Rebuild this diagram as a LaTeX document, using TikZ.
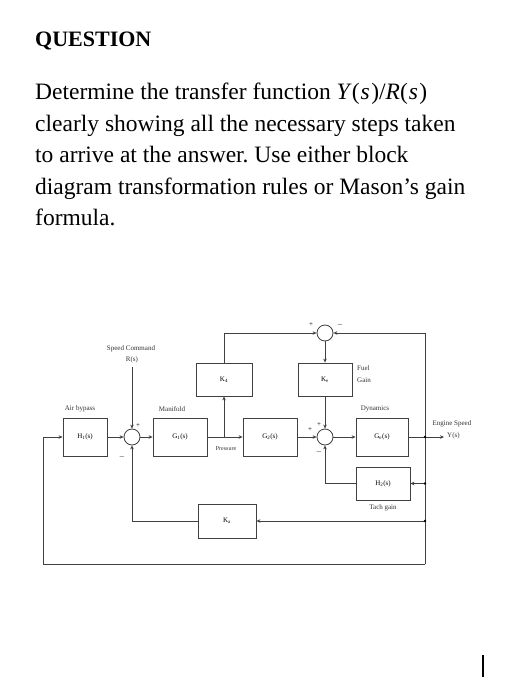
\documentclass[tikz,border=0pt]{standalone}
\usepackage{fontspec}
\setmainfont{Liberation Serif}
\usetikzlibrary{arrows.meta}
\frenchspacing
\newcommand{\mvar}[1]{\textit{#1}}
\begin{document}
\begin{tikzpicture}[x=1pt,y=-1pt,
  blk/.style={draw=black!75, line width=0.8pt, inner sep=0pt, minimum height=38pt, font=\fontsize{7}{8}\selectfont},
  sblk/.style={blk, minimum height=33pt},
  sumj/.style={draw=black!75, line width=0.8pt, circle, minimum size=16pt, inner sep=0pt},
  wire/.style={draw=black!75, line width=0.8pt},
  arr/.style={wire, -{Stealth[length=4pt,width=3.5pt]}},
  lbl/.style={font=\fontsize{7}{8}\selectfont, text=black!80, inner sep=0pt},
  sgn/.style={font=\fontsize{7}{7}\selectfont, inner sep=0pt},
  jdot/.style={circle, fill=black, minimum size=2.6pt, inner sep=0pt},
  body/.style={anchor=base west, font=\fontsize{23.5}{26}\selectfont, inner sep=0pt},
]
\useasboundingbox (0,0) rectangle (517,700);
\fill[white] (0,0) rectangle (517,700);

% text
\node[body, font=\fontsize{22}{26}\selectfont\bfseries] (q) at (35,47) {QUESTION};
\node[body] (l1) at (35,100) {Determine the transfer function \mvar{Y}(\kern1pt\mvar{s}\kern1.5pt)/\mvar{R}(\kern1pt\mvar{s}\kern1.5pt)};
\node[body] (l2) at (35,131.5) {clearly showing all the necessary steps taken};
\node[body] (l3) at (35,163) {to arrive at the answer. Use either block};
\node[body] (l4) at (35,194.5) {diagram transformation rules or Mason’s gain};
\node[body] (l5) at (35,226) {formula.};

% blocks
\node[blk, minimum width=44pt] (H1) at (85,437) {H\textsubscript{1}(s)};
\node[blk, minimum width=54pt] (G1) at (180,437) {G\textsubscript{1}(s)};
\node[blk, minimum width=54pt] (G2) at (270,437) {G\textsubscript{2}(s)};
\node[blk, minimum width=52pt] (Ge) at (382,437) {G\textsubscript{e}(s)};
\node[sblk, minimum width=56pt] (K4) at (224,379.5) {K\textsubscript{4}};
\node[sblk, minimum width=54pt] (Ke) at (325,379.5) {K\textsubscript{e}};
\node[sblk, minimum width=54pt] (H2) at (383,483.5) {H\textsubscript{2}(s)};
\node[sblk, minimum width=58pt, minimum height=34pt] (Ka) at (227,521) {K\textsubscript{a}};

% summing junctions
\node[sumj] (s1) at (132,437) {};
\node[sumj] (s2) at (325,333) {};
\node[sumj] (s3) at (325,437) {};

% coordinates
\coordinate (rin) at (132,367);
\coordinate (pj) at (224,437);
\coordinate (jtop) at (425,333);
\coordinate (jy) at (425,437);
\coordinate (jh) at (425,483.5);
\coordinate (jk) at (425,521);
\coordinate (jbot) at (425,564);
\coordinate (lb) at (43,564);
\coordinate (lt) at (43,437);
\coordinate (yout) at (444,437);

% connectors
\draw[arr] (rin) -- (s1.north);
\draw[arr] (H1.east) -- (s1.west);
\draw[arr] (s1.east) -- (G1.west);
\draw[arr] (G1.east) -- (G2.west);
\draw[arr] (pj) -- (K4.south);
\draw[arr] (K4.north) |- (s2.west);
\draw[arr] (s2.south) -- (Ke.north);
\draw[arr] (Ke.south) -- (s3.north);
\draw[arr] (G2.east) -- (s3.west);
\draw[arr] (s3.east) -- (Ge.west);
\draw[arr] (Ge.east) -- (yout);
\draw[arr] (jtop) -- (s2.east);
\draw[wire] (jtop) -- (jbot);
\draw[arr] (jh) -- (H2.east);
\draw[arr] (H2.west) -| (s3.south);
\draw[arr] (jk) -- (Ka.east);
\draw[arr] (Ka.west) -| (s1.south);
\draw[arr] (jbot) -- (lb) -- (lt) -- (H1.west);

\node[jdot] (d1) at (jy) {};
\node[jdot] (d2) at (jh) {};
\node[jdot] (d3) at (jk) {};

% labels
\node[lbl] (t1) at (131,349) {Speed Command};
\node[lbl] (t2) at (132,360) {R(s)};
\node[lbl] (t3) at (80,409) {Air bypass};
\node[lbl] (t4) at (172,409) {Manifold};
\node[lbl] (t5) at (375,409) {Dynamics};
\node[lbl, anchor=west] (t6) at (357,368) {Fuel};
\node[lbl, anchor=west] (t7) at (357,380) {Gain};
\node[lbl] (t8) at (452,424) {Engine Speed};
\node[lbl, anchor=west] (t9) at (447,436) {Y(s)};
\node[lbl, font=\fontsize{6}{7}\selectfont] (t10) at (226,449) {Pressure};
\node[lbl] (t11) at (383,508) {Tach gain};

% signs
\node[sgn] at (138,426) {+};
\node[sgn] at (122,457) {$-$};
\node[sgn] at (311,325) {+};
\node[sgn] at (340,325) {$-$};
\node[sgn] at (319,425) {+};
\node[sgn] at (310,430) {+};
\node[sgn] at (319,452) {$-$};

% cursor mark
\draw[line width=1.2pt] (483,655) -- (483,677);
\end{tikzpicture}
\end{document}
